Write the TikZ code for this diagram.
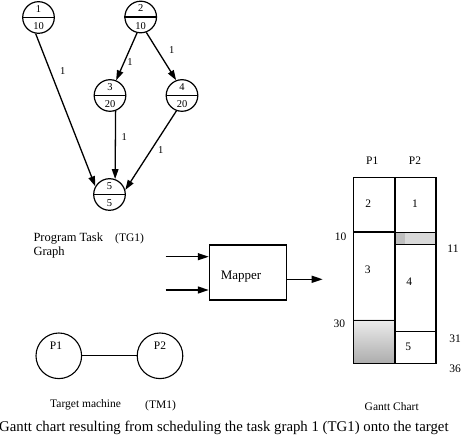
\documentclass[tikz,border=0pt]{standalone}
\usepackage{fontspec}
\setmainfont{Liberation Serif}
\usetikzlibrary{arrows.meta,calc}
\begin{document}
\begin{tikzpicture}[x=1pt,y=-1pt,
  task/.style={circle,draw,line width=1.2pt,minimum size=31.6pt,inner sep=0pt},
  num/.style={inner sep=0pt,font=\fontsize{10.5}{12}\selectfont},
  edge/.style={line width=1.3pt,-{Triangle[length=10pt,width=6.5pt]}},
  bigarrow/.style={line width=1.4pt,-{Triangle[length=11pt,width=7pt]}},
  elab/.style={inner sep=0pt,font=\fontsize{10.5}{12}\selectfont},
  txt/.style={inner sep=0pt,font=\fontsize{11.5}{13}\selectfont},
  proc/.style={circle,draw,line width=1.1pt,minimum size=45.6pt,inner sep=0pt},
  gline/.style={line width=1.3pt},
  thinline/.style={line width=0.8pt}
]
\useasboundingbox (0,0) rectangle (474,435);
\clip (0,0) rectangle (474,435);

% ---- task graph
\node[task] (t1) at (38.5,17.5) {};
\node[task] (t2) at (140.7,17) {};
\node[task] (t3) at (110,95.5) {};
\node[task] (t4) at (182,95.5) {};
\node[task] (t5) at (109.5,194.5) {};
\foreach \n/\a/\b in {t1/1/10,t2/2/10,t3/3/20,t4/4/20,t5/5/5}{
  \draw[line width=1.2pt] (\n.west) -- (\n.east);
  \node[num] at ($(\n)+(0,-8.5)$) {\a};
  \node[num] at ($(\n)+(0,9)$) {\b};
}
\draw[edge] (t1.-100) -- (t5.150);
\draw[edge] (t2.-103) -- (t3.68);
\draw[edge] (t2.-70) -- (t4.111);
\draw[edge] (t3.-70) -- (t5.70);
\draw[edge] (t4.-110) -- (t5.16);
\node[elab] (l15) at (62.7,71) {1};
\node[elab] (l23) at (130,61.7) {1};
\node[elab] (l24) at (171.7,50) {1};
\node[elab] (l35) at (124.3,137.3) {1};
\node[elab] (l45) at (160.7,150) {1};

\node[txt,anchor=west,font=\fontsize{12.5}{14}\selectfont] (pt) at (33.3,238.3) {Program Task};
\node[txt,anchor=west] (tg) at (115,238.3) {(TG1)};
\node[txt,anchor=west,font=\fontsize{12.5}{14}\selectfont] (gr) at (33.3,252) {Graph};

% ---- mapper
\node[draw,line width=1.1pt,minimum width=77.4pt,minimum height=55pt,inner sep=0pt] (mapper) at (248,272.5) {};
\node[txt,font=\fontsize{13}{15}\selectfont] (mt) at (241,276.7) {Mapper};
\coordinate (ia) at (165.7,256.7);
\coordinate (ib) at (165.7,290);
\coordinate (oa) at (322.7,279.3);
\draw[bigarrow] (ia) -- (ia -| mapper.west);
\draw[bigarrow] (ib) -- (ib -| mapper.west);
\draw[bigarrow] (oa -| mapper.east) -- (oa);

% ---- target machine
\node[proc] (p1) at (58.8,355.8) {};
\node[proc] (p2) at (160,355.8) {};
\draw[thinline] (p1) -- (p2);
\node[txt] (p1l) at (56,346) {P1};
\node[txt] (p2l) at (160,346) {P2};
\node[txt,anchor=west] (tm) at (50,405) {Target machine};
\node[txt,anchor=west] (tm1) at (145,406) {(TM1)};

% ---- Gantt chart
\shade[top color=gray!15,bottom color=gray!65] (353.5,320) rectangle (395,363.5);
\fill[gray!30] (395,232.5) rectangle (436,244);
\fill[gray!50] (395,232.5) rectangle (405,244);
\draw[gline] (353.5,177.5) rectangle (395,363.5);
\draw[gline] (395,177.5) rectangle (436,363.5);
\draw[line width=1.8pt] (353.5,232) -- (395,232);
\draw[thinline] (353.5,320) -- (395,320);
\draw[thinline] (395,232.5) -- (436,232.5);
\draw[thinline] (395,244) -- (436,244);
\draw[thinline] (395,331.5) -- (436,331.5);

\node[txt] (gp1) at (372.3,160.7) {P1};
\node[txt] (gp2) at (415,160.7) {P2};
\node[txt] (g2) at (368.3,203.3) {2};
\node[txt] (g1) at (415,203.3) {1};
\node[txt] (g3) at (367.7,270) {3};
\node[txt] (g4) at (409.3,281.7) {4};
\node[txt] (g5) at (408.3,346.7) {5};
\node[txt] (n10) at (340.7,236.7) {10};
\node[txt] (n11) at (453,248.3) {11};
\node[txt] (n30) at (339.3,324) {30};
\node[txt] (n31) at (455,338.3) {31};
\node[txt] (n36) at (455,368.3) {36};
\node[txt] (gc) at (391.7,406.7) {Gantt Chart};

% ---- caption
\node[anchor=base west,inner sep=0pt,font=\fontsize{14.8}{16}\selectfont] (cap) at (-1,431.5) {Gantt chart resulting from scheduling the task graph 1 (TG1) onto the target};
\end{tikzpicture}
\end{document}
